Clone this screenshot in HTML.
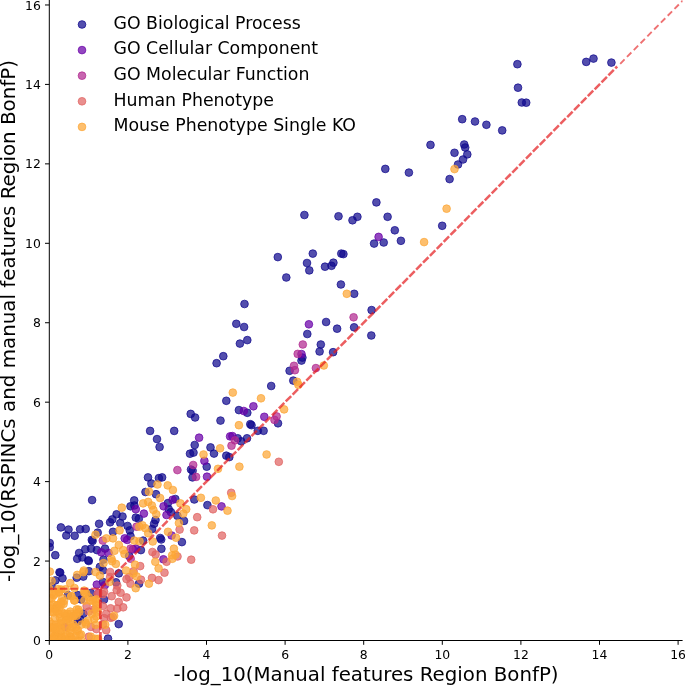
<!DOCTYPE html>
<html lang="en"><head><meta charset="utf-8"><title>Enrichment comparison</title>
<style>html,body{margin:0;padding:0;background:#fff}svg{display:block}text{font-family:"DejaVu Sans","Liberation Sans",sans-serif;fill:#000}</style></head><body>
<svg width="685" height="686" viewBox="0 0 685 686">
<rect width="685" height="686" fill="#fff"/>
<defs><clipPath id="ax"><rect x="49.3" y="0.0" width="633.3000000000001" height="640.5"/></clipPath></defs>
<g clip-path="url(#ax)">
<g fill="rgb(16,10,142)" fill-opacity="0.72" stroke="rgb(16,10,142)" stroke-opacity="0.72" stroke-width="1.0">
<circle cx="517.4" cy="64.2" r="3.86"/>
<circle cx="518.0" cy="87.7" r="3.86"/>
<circle cx="521.8" cy="102.5" r="3.86"/>
<circle cx="526.2" cy="102.7" r="3.86"/>
<circle cx="586.2" cy="61.9" r="3.86"/>
<circle cx="593.5" cy="58.6" r="3.86"/>
<circle cx="611.4" cy="62.6" r="3.86"/>
<circle cx="462.2" cy="119.2" r="3.86"/>
<circle cx="475.0" cy="121.5" r="3.86"/>
<circle cx="486.4" cy="124.8" r="3.86"/>
<circle cx="502.2" cy="130.4" r="3.86"/>
<circle cx="464.2" cy="144.5" r="3.86"/>
<circle cx="465.2" cy="147.5" r="3.86"/>
<circle cx="454.5" cy="152.8" r="3.86"/>
<circle cx="467.3" cy="154.4" r="3.86"/>
<circle cx="463.0" cy="159.5" r="3.86"/>
<circle cx="430.5" cy="144.9" r="3.86"/>
<circle cx="458.0" cy="164.5" r="3.86"/>
<circle cx="449.6" cy="179.1" r="3.86"/>
<circle cx="385.3" cy="168.9" r="3.86"/>
<circle cx="408.9" cy="172.6" r="3.86"/>
<circle cx="442.2" cy="225.8" r="3.86"/>
<circle cx="376.4" cy="202.4" r="3.86"/>
<circle cx="304.4" cy="215.0" r="3.86"/>
<circle cx="338.5" cy="216.3" r="3.86"/>
<circle cx="357.4" cy="216.8" r="3.86"/>
<circle cx="352.5" cy="220.3" r="3.86"/>
<circle cx="387.6" cy="216.8" r="3.86"/>
<circle cx="394.8" cy="230.3" r="3.86"/>
<circle cx="400.9" cy="240.8" r="3.86"/>
<circle cx="374.1" cy="243.6" r="3.86"/>
<circle cx="383.7" cy="242.5" r="3.86"/>
<circle cx="312.8" cy="253.6" r="3.86"/>
<circle cx="341.3" cy="253.6" r="3.86"/>
<circle cx="343.4" cy="254.1" r="3.86"/>
<circle cx="307.0" cy="263.0" r="3.86"/>
<circle cx="333.4" cy="262.7" r="3.86"/>
<circle cx="331.5" cy="265.8" r="3.86"/>
<circle cx="325.0" cy="266.7" r="3.86"/>
<circle cx="309.3" cy="270.4" r="3.86"/>
<circle cx="340.9" cy="284.5" r="3.86"/>
<circle cx="354.2" cy="293.8" r="3.86"/>
<circle cx="286.3" cy="277.5" r="3.86"/>
<circle cx="277.8" cy="257.1" r="3.86"/>
<circle cx="371.6" cy="310.1" r="3.86"/>
<circle cx="354.1" cy="327.3" r="3.86"/>
<circle cx="371.3" cy="335.5" r="3.86"/>
<circle cx="326.1" cy="322.0" r="3.86"/>
<circle cx="337.1" cy="328.7" r="3.86"/>
<circle cx="307.3" cy="334.0" r="3.86"/>
<circle cx="320.8" cy="344.5" r="3.86"/>
<circle cx="319.6" cy="351.5" r="3.86"/>
<circle cx="333.1" cy="352.2" r="3.86"/>
<circle cx="302.4" cy="357.6" r="3.86"/>
<circle cx="301.5" cy="360.6" r="3.86"/>
<circle cx="289.6" cy="370.8" r="3.86"/>
<circle cx="293.3" cy="380.6" r="3.86"/>
<circle cx="271.2" cy="386.0" r="3.86"/>
<circle cx="244.5" cy="304.0" r="3.86"/>
<circle cx="236.3" cy="323.8" r="3.86"/>
<circle cx="244.1" cy="327.0" r="3.86"/>
<circle cx="247.3" cy="340.1" r="3.86"/>
<circle cx="239.9" cy="343.6" r="3.86"/>
<circle cx="223.3" cy="356.2" r="3.86"/>
<circle cx="216.6" cy="363.2" r="3.86"/>
<circle cx="226.3" cy="400.8" r="3.86"/>
<circle cx="238.9" cy="410.1" r="3.86"/>
<circle cx="247.3" cy="412.8" r="3.86"/>
<circle cx="278.0" cy="423.3" r="3.86"/>
<circle cx="220.5" cy="420.6" r="3.86"/>
<circle cx="250.3" cy="424.2" r="3.86"/>
<circle cx="251.5" cy="425.2" r="3.86"/>
<circle cx="257.8" cy="430.8" r="3.86"/>
<circle cx="263.6" cy="430.8" r="3.86"/>
<circle cx="237.7" cy="438.3" r="3.86"/>
<circle cx="241.2" cy="441.3" r="3.86"/>
<circle cx="247.0" cy="438.3" r="3.86"/>
<circle cx="210.5" cy="447.4" r="3.86"/>
<circle cx="214.0" cy="453.6" r="3.86"/>
<circle cx="226.3" cy="455.7" r="3.86"/>
<circle cx="229.3" cy="457.1" r="3.86"/>
<circle cx="206.7" cy="466.7" r="3.86"/>
<circle cx="190.7" cy="413.9" r="3.86"/>
<circle cx="195.1" cy="417.5" r="3.86"/>
<circle cx="150.1" cy="430.9" r="3.86"/>
<circle cx="174.2" cy="430.9" r="3.86"/>
<circle cx="157.0" cy="439.1" r="3.86"/>
<circle cx="159.6" cy="447.0" r="3.86"/>
<circle cx="194.7" cy="445.0" r="3.86"/>
<circle cx="190.0" cy="453.7" r="3.86"/>
<circle cx="193.5" cy="452.6" r="3.86"/>
<circle cx="191.0" cy="469.5" r="3.86"/>
<circle cx="192.6" cy="470.7" r="3.86"/>
<circle cx="192.5" cy="477.4" r="3.86"/>
<circle cx="148.0" cy="477.4" r="3.86"/>
<circle cx="158.9" cy="478.1" r="3.86"/>
<circle cx="162.1" cy="477.4" r="3.86"/>
<circle cx="151.4" cy="483.5" r="3.86"/>
<circle cx="145.5" cy="492.0" r="3.86"/>
<circle cx="156.0" cy="494.2" r="3.86"/>
<circle cx="134.2" cy="500.4" r="3.86"/>
<circle cx="175.3" cy="499.0" r="3.86"/>
<circle cx="194.3" cy="499.5" r="3.86"/>
<circle cx="207.4" cy="505.1" r="3.86"/>
<circle cx="134.4" cy="505.5" r="3.86"/>
<circle cx="168.7" cy="509.2" r="3.86"/>
<circle cx="170.9" cy="512.1" r="3.86"/>
<circle cx="177.4" cy="515.8" r="3.86"/>
<circle cx="184.0" cy="520.9" r="3.86"/>
<circle cx="135.8" cy="517.6" r="3.86"/>
<circle cx="138.8" cy="518.7" r="3.86"/>
<circle cx="155.5" cy="520.1" r="3.86"/>
<circle cx="154.1" cy="523.8" r="3.86"/>
<circle cx="160.2" cy="538.0" r="3.86"/>
<circle cx="161.2" cy="539.5" r="3.86"/>
<circle cx="181.9" cy="542.1" r="3.86"/>
<circle cx="143.1" cy="540.6" r="3.86"/>
<circle cx="161.4" cy="548.8" r="3.86"/>
<circle cx="140.9" cy="550.1" r="3.86"/>
<circle cx="92.1" cy="500.1" r="3.86"/>
<circle cx="130.5" cy="506.3" r="3.86"/>
<circle cx="116.6" cy="514.3" r="3.86"/>
<circle cx="122.5" cy="516.5" r="3.86"/>
<circle cx="112.3" cy="519.4" r="3.86"/>
<circle cx="110.1" cy="522.3" r="3.86"/>
<circle cx="120.3" cy="523.1" r="3.86"/>
<circle cx="127.6" cy="526.0" r="3.86"/>
<circle cx="99.1" cy="523.8" r="3.86"/>
<circle cx="60.9" cy="527.4" r="3.86"/>
<circle cx="68.5" cy="529.6" r="3.86"/>
<circle cx="80.1" cy="529.3" r="3.86"/>
<circle cx="85.7" cy="528.9" r="3.86"/>
<circle cx="66.3" cy="535.5" r="3.86"/>
<circle cx="74.7" cy="535.8" r="3.86"/>
<circle cx="97.7" cy="532.6" r="3.86"/>
<circle cx="91.8" cy="539.9" r="3.86"/>
<circle cx="113.0" cy="531.8" r="3.86"/>
<circle cx="129.8" cy="530.4" r="3.86"/>
<circle cx="130.5" cy="536.2" r="3.86"/>
<circle cx="49.7" cy="543.0" r="3.86"/>
<circle cx="49.7" cy="547.2" r="3.86"/>
<circle cx="55.3" cy="555.2" r="3.86"/>
<circle cx="79.1" cy="553.0" r="3.86"/>
<circle cx="85.3" cy="549.3" r="3.86"/>
<circle cx="91.1" cy="548.6" r="3.86"/>
<circle cx="96.9" cy="550.1" r="3.86"/>
<circle cx="105.0" cy="548.6" r="3.86"/>
<circle cx="77.2" cy="558.8" r="3.86"/>
<circle cx="82.3" cy="557.4" r="3.86"/>
<circle cx="88.2" cy="560.3" r="3.86"/>
<circle cx="103.5" cy="559.6" r="3.86"/>
<circle cx="99.9" cy="566.9" r="3.86"/>
<circle cx="129.1" cy="555.9" r="3.86"/>
<circle cx="59.5" cy="572.3" r="3.86"/>
<circle cx="62.5" cy="578.3" r="3.86"/>
<circle cx="88.9" cy="571.2" r="3.86"/>
<circle cx="118.8" cy="573.4" r="3.86"/>
<circle cx="55.4" cy="580.4" r="3.86"/>
<circle cx="76.7" cy="577.7" r="3.86"/>
<circle cx="83.3" cy="576.6" r="3.86"/>
<circle cx="103.0" cy="570.3" r="3.86"/>
<circle cx="51.6" cy="586.4" r="3.86"/>
<circle cx="68.0" cy="595.2" r="3.86"/>
<circle cx="77.8" cy="595.2" r="3.86"/>
<circle cx="81.1" cy="599.5" r="3.86"/>
<circle cx="90.9" cy="593.0" r="3.86"/>
<circle cx="83.3" cy="613.7" r="3.86"/>
<circle cx="80.0" cy="619.2" r="3.86"/>
<circle cx="77.8" cy="621.4" r="3.86"/>
<circle cx="108.0" cy="638.6" r="3.86"/>
<circle cx="104.1" cy="599.5" r="3.86"/>
<circle cx="103.0" cy="582.0" r="3.86"/>
<circle cx="118.7" cy="624.1" r="3.86"/>
<circle cx="116.0" cy="582.3" r="3.86"/>
<circle cx="139.0" cy="583.7" r="3.86"/>
<circle cx="167.9" cy="503.1" r="3.86"/>
<circle cx="152.1" cy="529.0" r="3.86"/>
<circle cx="92.6" cy="540.9" r="3.86"/>
<circle cx="88.8" cy="561.0" r="3.86"/>
<circle cx="60.2" cy="572.6" r="3.86"/>
</g>
<g fill="rgb(106,0,168)" fill-opacity="0.72" stroke="rgb(106,0,168)" stroke-opacity="0.72" stroke-width="1.0">
<circle cx="378.6" cy="236.9" r="3.86"/>
<circle cx="308.9" cy="324.3" r="3.86"/>
<circle cx="301.5" cy="354.1" r="3.86"/>
<circle cx="253.4" cy="406.3" r="3.86"/>
<circle cx="243.8" cy="411.0" r="3.86"/>
<circle cx="264.3" cy="416.8" r="3.86"/>
<circle cx="230.1" cy="436.4" r="3.86"/>
<circle cx="232.4" cy="436.1" r="3.86"/>
<circle cx="204.4" cy="460.9" r="3.86"/>
<circle cx="207.0" cy="476.7" r="3.86"/>
<circle cx="199.1" cy="437.7" r="3.86"/>
<circle cx="172.6" cy="499.8" r="3.86"/>
<circle cx="221.5" cy="506.4" r="3.86"/>
<circle cx="135.8" cy="509.2" r="3.86"/>
<circle cx="143.9" cy="513.6" r="3.86"/>
<circle cx="163.6" cy="506.3" r="3.86"/>
<circle cx="166.5" cy="515.0" r="3.86"/>
<circle cx="171.6" cy="535.5" r="3.86"/>
<circle cx="135.8" cy="548.6" r="3.86"/>
<circle cx="132.9" cy="549.3" r="3.86"/>
<circle cx="163.4" cy="559.3" r="3.86"/>
<circle cx="124.7" cy="538.4" r="3.86"/>
<circle cx="101.3" cy="552.3" r="3.86"/>
<circle cx="108.6" cy="553.0" r="3.86"/>
<circle cx="96.8" cy="584.6" r="3.86"/>
<circle cx="104.8" cy="585.2" r="3.86"/>
<circle cx="127.2" cy="539.9" r="3.86"/>
</g>
<g fill="rgb(177,42,144)" fill-opacity="0.72" stroke="rgb(177,42,144)" stroke-opacity="0.72" stroke-width="1.0">
<circle cx="353.6" cy="317.3" r="3.86"/>
<circle cx="302.8" cy="344.5" r="3.86"/>
<circle cx="297.7" cy="353.9" r="3.86"/>
<circle cx="294.0" cy="365.8" r="3.86"/>
<circle cx="294.9" cy="370.2" r="3.86"/>
<circle cx="315.9" cy="368.1" r="3.86"/>
<circle cx="276.6" cy="416.4" r="3.86"/>
<circle cx="274.5" cy="419.9" r="3.86"/>
<circle cx="235.0" cy="440.4" r="3.86"/>
<circle cx="231.5" cy="445.7" r="3.86"/>
<circle cx="193.2" cy="465.0" r="3.86"/>
<circle cx="177.4" cy="470.1" r="3.86"/>
<circle cx="196.1" cy="476.9" r="3.86"/>
<circle cx="136.5" cy="526.7" r="3.86"/>
<circle cx="130.7" cy="558.8" r="3.86"/>
<circle cx="102.8" cy="540.6" r="3.86"/>
<circle cx="130.5" cy="548.6" r="3.86"/>
<circle cx="64.7" cy="626.9" r="3.86"/>
<circle cx="98.6" cy="593.0" r="3.86"/>
</g>
<g fill="rgb(225,100,98)" fill-opacity="0.72" stroke="rgb(225,100,98)" stroke-opacity="0.72" stroke-width="1.0">
<circle cx="278.8" cy="461.8" r="3.86"/>
<circle cx="231.2" cy="492.8" r="3.86"/>
<circle cx="213.0" cy="509.3" r="3.86"/>
<circle cx="197.2" cy="517.2" r="3.86"/>
<circle cx="179.6" cy="529.6" r="3.86"/>
<circle cx="194.2" cy="530.4" r="3.86"/>
<circle cx="222.0" cy="535.6" r="3.86"/>
<circle cx="152.4" cy="552.0" r="3.86"/>
<circle cx="155.6" cy="554.5" r="3.86"/>
<circle cx="177.5" cy="556.5" r="3.86"/>
<circle cx="166.6" cy="561.8" r="3.86"/>
<circle cx="191.2" cy="559.7" r="3.86"/>
<circle cx="164.5" cy="572.7" r="3.86"/>
<circle cx="140.2" cy="566.1" r="3.86"/>
<circle cx="133.6" cy="571.2" r="3.86"/>
<circle cx="152.0" cy="577.9" r="3.86"/>
<circle cx="158.6" cy="580.1" r="3.86"/>
<circle cx="110.1" cy="572.0" r="3.86"/>
<circle cx="129.1" cy="577.1" r="3.86"/>
<circle cx="110.1" cy="577.1" r="3.86"/>
<circle cx="55.9" cy="608.3" r="3.86"/>
<circle cx="86.6" cy="606.1" r="3.86"/>
<circle cx="88.8" cy="611.6" r="3.86"/>
<circle cx="94.2" cy="609.4" r="3.86"/>
<circle cx="90.9" cy="626.9" r="3.86"/>
<circle cx="96.4" cy="629.1" r="3.86"/>
<circle cx="106.2" cy="630.2" r="3.86"/>
<circle cx="88.8" cy="636.7" r="3.86"/>
<circle cx="104.1" cy="591.9" r="3.86"/>
<circle cx="111.7" cy="596.2" r="3.86"/>
<circle cx="110.6" cy="608.3" r="3.86"/>
<circle cx="106.2" cy="613.7" r="3.86"/>
<circle cx="112.8" cy="617.0" r="3.86"/>
<circle cx="104.1" cy="618.1" r="3.86"/>
<circle cx="126.5" cy="579.1" r="3.86"/>
<circle cx="130.5" cy="583.7" r="3.86"/>
<circle cx="141.0" cy="579.7" r="3.86"/>
<circle cx="117.3" cy="585.6" r="3.86"/>
<circle cx="116.7" cy="590.2" r="3.86"/>
<circle cx="120.6" cy="592.8" r="3.86"/>
<circle cx="126.5" cy="597.4" r="3.86"/>
<circle cx="118.7" cy="602.0" r="3.86"/>
<circle cx="123.2" cy="607.3" r="3.86"/>
<circle cx="117.3" cy="608.6" r="3.86"/>
<circle cx="102.9" cy="606.0" r="3.86"/>
<circle cx="110.8" cy="617.8" r="3.86"/>
<circle cx="102.9" cy="594.2" r="3.86"/>
<circle cx="97.6" cy="594.2" r="3.86"/>
<circle cx="102.9" cy="624.4" r="3.86"/>
</g>
<g fill="rgb(252,166,54)" fill-opacity="0.72" stroke="rgb(252,166,54)" stroke-opacity="0.72" stroke-width="1.0">
<circle cx="454.5" cy="169.1" r="3.86"/>
<circle cx="446.6" cy="208.7" r="3.86"/>
<circle cx="424.1" cy="242.1" r="3.86"/>
<circle cx="346.8" cy="293.8" r="3.86"/>
<circle cx="323.8" cy="365.5" r="3.86"/>
<circle cx="297.2" cy="381.8" r="3.86"/>
<circle cx="298.4" cy="384.8" r="3.86"/>
<circle cx="232.8" cy="392.6" r="3.86"/>
<circle cx="261.0" cy="398.3" r="3.86"/>
<circle cx="284.1" cy="409.4" r="3.86"/>
<circle cx="238.9" cy="425.2" r="3.86"/>
<circle cx="220.1" cy="448.3" r="3.86"/>
<circle cx="203.5" cy="454.5" r="3.86"/>
<circle cx="218.0" cy="468.8" r="3.86"/>
<circle cx="239.4" cy="466.7" r="3.86"/>
<circle cx="266.6" cy="454.5" r="3.86"/>
<circle cx="232.1" cy="496.0" r="3.86"/>
<circle cx="215.8" cy="500.5" r="3.86"/>
<circle cx="200.9" cy="497.8" r="3.86"/>
<circle cx="157.5" cy="484.5" r="3.86"/>
<circle cx="167.7" cy="485.4" r="3.86"/>
<circle cx="172.9" cy="490.0" r="3.86"/>
<circle cx="149.0" cy="491.7" r="3.86"/>
<circle cx="160.1" cy="498.0" r="3.86"/>
<circle cx="227.5" cy="510.7" r="3.86"/>
<circle cx="143.1" cy="503.4" r="3.86"/>
<circle cx="148.2" cy="501.9" r="3.86"/>
<circle cx="151.9" cy="505.5" r="3.86"/>
<circle cx="153.4" cy="509.9" r="3.86"/>
<circle cx="156.3" cy="514.3" r="3.86"/>
<circle cx="180.4" cy="503.4" r="3.86"/>
<circle cx="186.2" cy="509.2" r="3.86"/>
<circle cx="183.3" cy="513.6" r="3.86"/>
<circle cx="178.9" cy="523.1" r="3.86"/>
<circle cx="211.8" cy="525.4" r="3.86"/>
<circle cx="142.4" cy="525.3" r="3.86"/>
<circle cx="145.3" cy="528.2" r="3.86"/>
<circle cx="148.2" cy="533.3" r="3.86"/>
<circle cx="168.0" cy="531.8" r="3.86"/>
<circle cx="176.0" cy="537.7" r="3.86"/>
<circle cx="152.7" cy="541.5" r="3.86"/>
<circle cx="134.4" cy="540.6" r="3.86"/>
<circle cx="139.5" cy="541.3" r="3.86"/>
<circle cx="173.9" cy="548.7" r="3.86"/>
<circle cx="172.1" cy="555.3" r="3.86"/>
<circle cx="175.5" cy="554.6" r="3.86"/>
<circle cx="172.3" cy="558.8" r="3.86"/>
<circle cx="155.3" cy="561.8" r="3.86"/>
<circle cx="158.6" cy="568.4" r="3.86"/>
<circle cx="135.1" cy="564.7" r="3.86"/>
<circle cx="136.6" cy="576.4" r="3.86"/>
<circle cx="121.8" cy="507.7" r="3.86"/>
<circle cx="139.3" cy="526.7" r="3.86"/>
<circle cx="95.5" cy="534.7" r="3.86"/>
<circle cx="119.6" cy="530.4" r="3.86"/>
<circle cx="106.4" cy="538.4" r="3.86"/>
<circle cx="113.0" cy="538.4" r="3.86"/>
<circle cx="118.8" cy="545.0" r="3.86"/>
<circle cx="123.2" cy="550.1" r="3.86"/>
<circle cx="114.5" cy="550.8" r="3.86"/>
<circle cx="103.5" cy="563.2" r="3.86"/>
<circle cx="111.5" cy="558.8" r="3.86"/>
<circle cx="115.9" cy="563.9" r="3.86"/>
<circle cx="49.8" cy="571.6" r="3.86"/>
<circle cx="83.8" cy="570.5" r="3.86"/>
<circle cx="77.2" cy="574.9" r="3.86"/>
<circle cx="95.5" cy="572.0" r="3.86"/>
<circle cx="99.9" cy="575.6" r="3.86"/>
<circle cx="126.1" cy="570.5" r="3.86"/>
<circle cx="133.4" cy="573.4" r="3.86"/>
<circle cx="51.6" cy="580.9" r="3.86"/>
<circle cx="70.2" cy="583.1" r="3.86"/>
<circle cx="83.3" cy="572.2" r="3.86"/>
<circle cx="109.5" cy="582.0" r="3.86"/>
<circle cx="74.5" cy="588.0" r="3.86"/>
<circle cx="59.2" cy="591.9" r="3.86"/>
<circle cx="53.8" cy="595.2" r="3.86"/>
<circle cx="51.6" cy="598.4" r="3.86"/>
<circle cx="71.2" cy="596.2" r="3.86"/>
<circle cx="74.5" cy="600.6" r="3.86"/>
<circle cx="63.6" cy="603.9" r="3.86"/>
<circle cx="58.1" cy="605.0" r="3.86"/>
<circle cx="84.4" cy="593.0" r="3.86"/>
<circle cx="88.8" cy="597.3" r="3.86"/>
<circle cx="84.4" cy="600.6" r="3.86"/>
<circle cx="93.1" cy="600.6" r="3.86"/>
<circle cx="96.4" cy="605.0" r="3.86"/>
<circle cx="76.7" cy="609.4" r="3.86"/>
<circle cx="70.2" cy="611.6" r="3.86"/>
<circle cx="64.7" cy="613.7" r="3.86"/>
<circle cx="59.2" cy="613.7" r="3.86"/>
<circle cx="54.8" cy="618.1" r="3.86"/>
<circle cx="68.0" cy="619.2" r="3.86"/>
<circle cx="73.4" cy="615.9" r="3.86"/>
<circle cx="85.5" cy="622.5" r="3.86"/>
<circle cx="94.2" cy="619.2" r="3.86"/>
<circle cx="92.0" cy="613.7" r="3.86"/>
<circle cx="105.2" cy="624.7" r="3.86"/>
<circle cx="59.2" cy="624.7" r="3.86"/>
<circle cx="53.8" cy="626.9" r="3.86"/>
<circle cx="51.6" cy="632.3" r="3.86"/>
<circle cx="55.9" cy="634.5" r="3.86"/>
<circle cx="61.4" cy="631.2" r="3.86"/>
<circle cx="66.9" cy="628.0" r="3.86"/>
<circle cx="72.3" cy="626.9" r="3.86"/>
<circle cx="77.8" cy="630.2" r="3.86"/>
<circle cx="81.1" cy="634.5" r="3.86"/>
<circle cx="75.6" cy="635.6" r="3.86"/>
<circle cx="70.2" cy="636.7" r="3.86"/>
<circle cx="64.7" cy="636.7" r="3.86"/>
<circle cx="59.2" cy="637.8" r="3.86"/>
<circle cx="53.8" cy="637.8" r="3.86"/>
<circle cx="90.9" cy="636.7" r="3.86"/>
<circle cx="112.1" cy="561.3" r="3.86"/>
<circle cx="135.7" cy="588.2" r="3.86"/>
<circle cx="148.9" cy="583.7" r="3.86"/>
<circle cx="114.1" cy="615.8" r="3.86"/>
<circle cx="96.3" cy="599.4" r="3.86"/>
<circle cx="96.3" cy="608.6" r="3.86"/>
<circle cx="96.3" cy="616.5" r="3.86"/>
<circle cx="95.7" cy="638.8" r="3.86"/>
<circle cx="124.5" cy="554.0" r="3.86"/>
<circle cx="49.1" cy="588.7" r="3.86"/>
<circle cx="58.2" cy="589.2" r="3.86"/>
<circle cx="61.3" cy="589.5" r="3.86"/>
<circle cx="65.6" cy="589.3" r="3.86"/>
<circle cx="84.2" cy="590.6" r="3.86"/>
<circle cx="51.8" cy="593.7" r="3.86"/>
<circle cx="55.6" cy="593.5" r="3.86"/>
<circle cx="59.2" cy="592.3" r="3.86"/>
<circle cx="86.2" cy="593.4" r="3.86"/>
<circle cx="49.7" cy="598.1" r="3.86"/>
<circle cx="62.3" cy="598.1" r="3.86"/>
<circle cx="71.4" cy="596.2" r="3.86"/>
<circle cx="61.0" cy="602.0" r="3.86"/>
<circle cx="64.0" cy="600.9" r="3.86"/>
<circle cx="74.2" cy="600.3" r="3.86"/>
<circle cx="90.2" cy="600.8" r="3.86"/>
<circle cx="95.7" cy="601.6" r="3.86"/>
<circle cx="50.4" cy="605.7" r="3.86"/>
<circle cx="53.5" cy="604.7" r="3.86"/>
<circle cx="57.1" cy="605.3" r="3.86"/>
<circle cx="61.3" cy="603.9" r="3.86"/>
<circle cx="50.7" cy="608.5" r="3.86"/>
<circle cx="55.4" cy="609.6" r="3.86"/>
<circle cx="59.4" cy="607.7" r="3.86"/>
<circle cx="78.6" cy="609.7" r="3.86"/>
<circle cx="50.1" cy="612.1" r="3.86"/>
<circle cx="53.8" cy="612.4" r="3.86"/>
<circle cx="57.0" cy="611.6" r="3.86"/>
<circle cx="61.9" cy="612.1" r="3.86"/>
<circle cx="67.2" cy="613.8" r="3.86"/>
<circle cx="70.9" cy="613.8" r="3.86"/>
<circle cx="76.5" cy="613.8" r="3.86"/>
<circle cx="79.3" cy="612.0" r="3.86"/>
<circle cx="97.5" cy="611.7" r="3.86"/>
<circle cx="59.8" cy="617.3" r="3.86"/>
<circle cx="65.7" cy="616.3" r="3.86"/>
<circle cx="68.6" cy="617.7" r="3.86"/>
<circle cx="73.7" cy="615.8" r="3.86"/>
<circle cx="76.6" cy="615.8" r="3.86"/>
<circle cx="49.3" cy="621.4" r="3.86"/>
<circle cx="61.8" cy="620.7" r="3.86"/>
<circle cx="66.1" cy="620.3" r="3.86"/>
<circle cx="70.1" cy="621.4" r="3.86"/>
<circle cx="88.2" cy="620.5" r="3.86"/>
<circle cx="51.8" cy="623.9" r="3.86"/>
<circle cx="56.0" cy="624.5" r="3.86"/>
<circle cx="60.9" cy="623.4" r="3.86"/>
<circle cx="73.2" cy="624.5" r="3.86"/>
<circle cx="81.6" cy="624.6" r="3.86"/>
<circle cx="86.1" cy="624.4" r="3.86"/>
<circle cx="95.7" cy="624.8" r="3.86"/>
<circle cx="50.3" cy="627.3" r="3.86"/>
<circle cx="52.9" cy="628.1" r="3.86"/>
<circle cx="57.1" cy="627.6" r="3.86"/>
<circle cx="61.4" cy="628.6" r="3.86"/>
<circle cx="70.2" cy="628.7" r="3.86"/>
<circle cx="75.7" cy="627.3" r="3.86"/>
<circle cx="50.5" cy="632.2" r="3.86"/>
<circle cx="55.8" cy="630.9" r="3.86"/>
<circle cx="59.8" cy="632.4" r="3.86"/>
<circle cx="70.0" cy="632.8" r="3.86"/>
<circle cx="76.9" cy="631.0" r="3.86"/>
<circle cx="54.1" cy="636.7" r="3.86"/>
<circle cx="57.1" cy="636.8" r="3.86"/>
<circle cx="61.4" cy="636.8" r="3.86"/>
<circle cx="66.6" cy="635.6" r="3.86"/>
<circle cx="71.1" cy="637.0" r="3.86"/>
<circle cx="79.7" cy="635.3" r="3.86"/>
<circle cx="52.2" cy="639.9" r="3.86"/>
<circle cx="55.2" cy="639.7" r="3.86"/>
<circle cx="61.3" cy="638.9" r="3.86"/>
<circle cx="65.3" cy="639.6" r="3.86"/>
<circle cx="68.8" cy="640.6" r="3.86"/>
<circle cx="72.9" cy="639.8" r="3.86"/>
<circle cx="77.9" cy="641.0" r="3.86"/>
<circle cx="81.4" cy="640.6" r="3.86"/>
<circle cx="98.1" cy="638.8" r="3.86"/>
</g>
<g stroke="#e41a1c" stroke-opacity="0.7" fill="none">
<path stroke-width="2.5" stroke-dasharray="7.7 2.06" d="M100.4 588.8L617.2 66.5"/>
<path stroke-width="1.9" stroke-opacity="0.62" stroke-dasharray="6.2 3.45" d="M620.2 63.8L682.7 0.6"/>
<path stroke-width="2.0" stroke-dasharray="7.6 2.9" d="M49.3 588.8L100.4 588.8"/>
<path stroke-width="2.8" stroke-dasharray="8.6 2.2" d="M100.4 588.8L100.4 640.5"/>
</g></g>
<g stroke="#000" stroke-width="1" fill="none">
<path d="M49.3 641.0L49.3 0.0"/>
<path d="M48.8 640.5L682.6 640.5"/>
<path d="M49.30 640.5v4.3"/>
<path d="M49.3 640.50h-4.3"/>
<path d="M127.90 640.5v4.3"/>
<path d="M49.3 561.06h-4.3"/>
<path d="M206.50 640.5v4.3"/>
<path d="M49.3 481.62h-4.3"/>
<path d="M285.10 640.5v4.3"/>
<path d="M49.3 402.18h-4.3"/>
<path d="M363.70 640.5v4.3"/>
<path d="M49.3 322.74h-4.3"/>
<path d="M442.30 640.5v4.3"/>
<path d="M49.3 243.30h-4.3"/>
<path d="M520.90 640.5v4.3"/>
<path d="M49.3 163.86h-4.3"/>
<path d="M599.50 640.5v4.3"/>
<path d="M49.3 84.42h-4.3"/>
<path d="M678.10 640.5v4.3"/>
<path d="M49.3 4.98h-4.3"/>
</g>
<g font-size="12.4">
<text x="49.30" y="658.5" text-anchor="middle">0</text>
<text x="40.8" y="645.10" text-anchor="end">0</text>
<text x="127.90" y="658.5" text-anchor="middle">2</text>
<text x="40.8" y="565.66" text-anchor="end">2</text>
<text x="206.50" y="658.5" text-anchor="middle">4</text>
<text x="40.8" y="486.22" text-anchor="end">4</text>
<text x="285.10" y="658.5" text-anchor="middle">6</text>
<text x="40.8" y="406.78" text-anchor="end">6</text>
<text x="363.70" y="658.5" text-anchor="middle">8</text>
<text x="40.8" y="327.34" text-anchor="end">8</text>
<text x="442.30" y="658.5" text-anchor="middle">10</text>
<text x="40.8" y="247.90" text-anchor="end">10</text>
<text x="520.90" y="658.5" text-anchor="middle">12</text>
<text x="40.8" y="168.46" text-anchor="end">12</text>
<text x="599.50" y="658.5" text-anchor="middle">14</text>
<text x="40.8" y="89.02" text-anchor="end">14</text>
<text x="678.10" y="658.5" text-anchor="middle">16</text>
<text x="40.8" y="9.58" text-anchor="end">16</text>
</g>
<text x="366" y="680.5" font-size="19.8" text-anchor="middle">-log_10(Manual features Region BonfP)</text>
<text transform="translate(14.6 321) rotate(-90)" font-size="19.88" text-anchor="middle">-log_10(RSPINCs and manual features Region BonfP)</text>
<circle cx="82.0" cy="24.5" r="3.86" fill="rgb(16,10,142)" fill-opacity="0.72" stroke="rgb(16,10,142)" stroke-opacity="0.72" stroke-width="1.0"/>
<text x="113.5" y="28.8" font-size="17.33">GO Biological Process</text>
<circle cx="82.0" cy="50.1" r="3.86" fill="rgb(106,0,168)" fill-opacity="0.72" stroke="rgb(106,0,168)" stroke-opacity="0.72" stroke-width="1.0"/>
<text x="113.5" y="54.4" font-size="17.33">GO Cellular Component</text>
<circle cx="82.0" cy="75.7" r="3.86" fill="rgb(177,42,144)" fill-opacity="0.72" stroke="rgb(177,42,144)" stroke-opacity="0.72" stroke-width="1.0"/>
<text x="113.5" y="80.1" font-size="17.33">GO Molecular Function</text>
<circle cx="82.0" cy="101.3" r="3.86" fill="rgb(225,100,98)" fill-opacity="0.72" stroke="rgb(225,100,98)" stroke-opacity="0.72" stroke-width="1.0"/>
<text x="113.5" y="105.7" font-size="17.33">Human Phenotype</text>
<circle cx="82.0" cy="126.9" r="3.86" fill="rgb(252,166,54)" fill-opacity="0.72" stroke="rgb(252,166,54)" stroke-opacity="0.72" stroke-width="1.0"/>
<text x="113.5" y="131.3" font-size="17.33">Mouse Phenotype Single KO</text>
</svg></body></html>
